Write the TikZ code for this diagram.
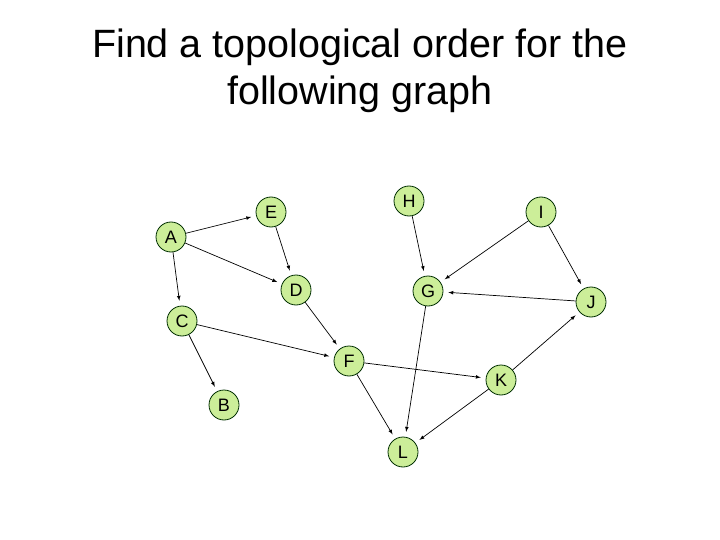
\documentclass[tikz,border=0pt]{standalone}
\usepackage{fontspec}
\setmainfont{Liberation Sans}
\begin{document}
\begin{tikzpicture}[x=1pt,y=-1pt,
 vert/.style={circle,draw=black!70!green!60!black,fill={rgb,255:red,204;green,238;blue,153},line width=0.8pt,minimum size=30pt,inner sep=0pt,font=\fontsize{18}{18}\selectfont},
 edge/.style={-latex,line width=0.7pt,shorten >=5pt}]
\useasboundingbox (0,0) rectangle (720,540);
\node[align=center,font=\fontsize{39.5}{47}\selectfont] (title) at (360,71) {Find a topological order for the\\following graph};
\node[vert] (A) at (171,237) {A};
\node[vert] (E) at (271,212) {E};
\node[vert] (H) at (409,201) {H};
\node[vert] (I) at (541,212) {I};
\node[vert] (D) at (296,290) {D};
\node[vert] (G) at (428,291) {G};
\node[vert] (J) at (591,302) {J};
\node[vert] (C) at (182,321) {C};
\node[vert] (F) at (349,361) {F};
\node[vert] (K) at (501,380) {K};
\node[vert] (B) at (224,405) {B};
\node[vert] (L) at (403,452) {L};
\draw[edge] (A) -- (E);
\draw[edge] (A) -- (D);
\draw[edge] (A) -- (C);
\draw[edge] (E) -- (D);
\draw[edge] (C) -- (B);
\draw[edge] (C) -- (F);
\draw[edge] (D) -- (F);
\draw[edge] (F) -- (L);
\draw[edge] (F) -- (K);
\draw[edge] (H) -- (G);
\draw[edge] (I) -- (G);
\draw[edge] (I) -- (J);
\draw[edge] (J) -- (G);
\draw[edge] (K) -- (J);
\draw[edge] (K) -- (L);
\draw[edge] (G) -- (L);
\end{tikzpicture}
\end{document}
